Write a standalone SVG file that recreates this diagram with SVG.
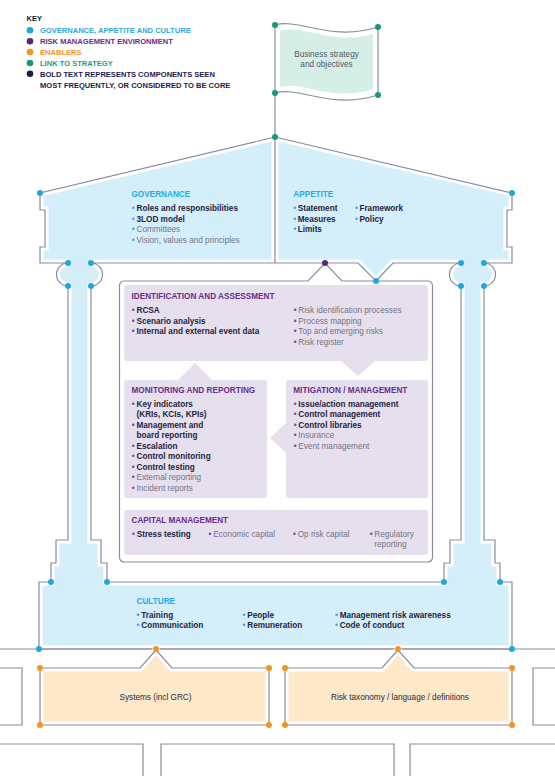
<svg xmlns="http://www.w3.org/2000/svg" width="555" height="776" viewBox="0 0 555 776">
<style>
.ol{fill:none;stroke:#8b8b9c;stroke-width:1.2}
.wb{stroke:#fff;stroke-width:7}
.blue{fill:#d4eefa}
.lav{fill:#e6dfed}
.ora{fill:#fde8c9}
.mint{fill:#d5efe6}
text{font-family:"Liberation Sans",Arial,sans-serif;font-size:8.2px}
.k{font-size:7.55px;font-weight:700}
.ttl{font-weight:700}
.tc{fill:#22ace3}
.tp{fill:#6a2d8e}
.bd{font-weight:700;fill:#25243e}
.rg{fill:#747487}
.bc{fill:#22ace3}
.bp{fill:#7a3a9e}
.ctr{text-anchor:middle}
.dc{fill:#1fa8e0}
.dp{fill:#4e2a78}
.do{fill:#f7941d}
.dt{fill:#16987c}
.dn{fill:#1d1b4c}
</style>

<g id="key">
<text x="26.5" y="21" class="k" fill="#1a1a1a">KEY</text>
<circle cx="30" cy="30.3" r="3.3" class="dc"/>
<text x="40" y="33.3" class="k" fill="#2aabe2">GOVERNANCE, APPETITE AND CULTURE</text>
<circle cx="30" cy="41.3" r="3.3" class="dp"/>
<text x="40" y="44.3" class="k" fill="#6a2d8e">RISK MANAGEMENT ENVIRONMENT</text>
<circle cx="30" cy="52" r="3.3" class="do"/>
<text x="40" y="55" class="k" fill="#f7941d">ENABLERS</text>
<circle cx="30" cy="63" r="3.3" class="dt"/>
<text x="40" y="66" class="k" fill="#16a085">LINK TO STRATEGY</text>
<circle cx="30" cy="73.7" r="3.3" class="dn"/>
<text x="40" y="77" class="k" fill="#1d1b4c">BOLD TEXT REPRESENTS COMPONENTS SEEN</text>
<text x="40" y="87.5" class="k" fill="#1d1b4c">MOST FREQUENTLY, OR CONSIDERED TO BE CORE</text>
</g>

<g id="structure">
<path class="blue wb" fill-rule="evenodd" d="M275,137 L512,193 V210 H507 V247 H512 V263 H484 A11.5,11.5 0 0 1 484,286 V540 H495 V563 H500 V582 H512 V649 H39 V582 H51 V563 H56 V540 H68 V286 A11.5,11.5 0 0 1 68,263 H40 V247 H45 V210 H40 V193 Z M91,263 H358 L376,281 L393,263 H461 A11.5,11.5 0 0 0 461,286 V540 H450 V563 H444 V582 H107 V563 H101 V540 H91 V286 A11.5,11.5 0 0 0 91,263 Z"/>
<line x1="275" y1="140" x2="275" y2="263" class="wb"/>
<path class="ol" d="M275,137 L512,193 V210 H507 V247 H512 V263 H484 A11.5,11.5 0 0 1 484,286 V540 H495 V563 H500 V582 H512 V649 H39 V582 H51 V563 H56 V540 H68 V286 A11.5,11.5 0 0 1 68,263 H40 V247 H45 V210 H40 V193 Z M91,263 H358 L376,281 L393,263 H461 A11.5,11.5 0 0 0 461,286 V540 H450 V563 H444 V582 H107 V563 H101 V540 H91 V286 A11.5,11.5 0 0 0 91,263 Z"/>
<line x1="0" y1="649" x2="555" y2="649" class="ol"/>
</g>

<g id="flag">
<path class="mint" d="M280,31 C303,24 332,46 373,34 V89 C332,103 303,80 280,87 Z"/>
<path class="ol" d="M275,25 C300,18 330,42 378,27 V95 M275,93 C300,86 330,110 378,95"/>
<line x1="275" y1="25" x2="275" y2="263" class="ol"/>
<text x="326.5" y="56.5" class="ctr" fill="#55556a">Business strategy</text>
<text x="326.5" y="66.8" class="ctr" fill="#55556a">and objectives</text>
</g>

<g id="governance">
<text x="131.5" y="196.7" class="ttl tc">GOVERNANCE</text>
<text y="211"><tspan x="131.7" class="bc">•</tspan><tspan x="136.5" class="bd">Roles and responsibilities</tspan></text>
<text y="221.5"><tspan x="131.7" class="bc">•</tspan><tspan x="136.5" class="bd">3LOD model</tspan></text>
<text y="232"><tspan x="131.7" class="bc">•</tspan><tspan x="136.5" class="rg">Committees</tspan></text>
<text y="242.5"><tspan x="131.7" class="bc">•</tspan><tspan x="136.5" class="rg">Vision, values and principles</tspan></text>
</g>

<g id="appetite">
<text x="293.3" y="196.7" class="ttl tc">APPETITE</text>
<text y="211"><tspan x="293.3" class="bc">•</tspan><tspan x="297.8" class="bd">Statement</tspan></text>
<text y="221.5"><tspan x="293.3" class="bc">•</tspan><tspan x="297.8" class="bd">Measures</tspan></text>
<text y="232"><tspan x="293.3" class="bc">•</tspan><tspan x="297.8" class="bd">Limits</tspan></text>
<text y="211"><tspan x="355" class="bc">•</tspan><tspan x="359.4" class="bd">Framework</tspan></text>
<text y="221.5"><tspan x="355" class="bc">•</tspan><tspan x="359.4" class="bd">Policy</tspan></text>
</g>

<g id="risk-management-environment">
<path class="ol" d="M124.5,281 H308 L325,263 L342,281 H427.5 Q432.5,281 432.5,286 V557 Q432.5,562 427.5,562 H124.5 Q119.5,562 119.5,557 V286 Q119.5,281 124.5,281 Z"/>
</g>

<g id="connectors">
<polygon class="lav" points="340,360 358,376 376,360"/>
<polygon class="lav" points="287,422 270,438 287,454"/>
<polygon class="lav" points="177,381 195,363 213,381"/>
</g>

<g id="identification">
<rect x="124" y="285" width="304" height="76" rx="3" class="lav"/>
<text x="131.5" y="298.5" class="ttl tp">IDENTIFICATION AND ASSESSMENT</text>
<text y="313"><tspan x="131.7" class="bp">•</tspan><tspan x="136.5" class="bd">RCSA</tspan></text>
<text y="323.5"><tspan x="131.7" class="bp">•</tspan><tspan x="136.5" class="bd">Scenario analysis</tspan></text>
<text y="334"><tspan x="131.7" class="bp">•</tspan><tspan x="136.5" class="bd">Internal and external event data</tspan></text>
<text y="313"><tspan x="293.8" class="bp">•</tspan><tspan x="298.3" class="rg">Risk identification processes</tspan></text>
<text y="323.5"><tspan x="293.8" class="bp">•</tspan><tspan x="298.3" class="rg">Process mapping</tspan></text>
<text y="334"><tspan x="293.8" class="bp">•</tspan><tspan x="298.3" class="rg">Top and emerging risks</tspan></text>
<text y="344.5"><tspan x="293.8" class="bp">•</tspan><tspan x="298.3" class="rg">Risk register</tspan></text>
</g>

<g id="monitoring">
<rect x="124" y="380" width="143" height="118" rx="3" class="lav"/>
<text x="131.5" y="393.3" class="ttl tp">MONITORING AND REPORTING</text>
<text y="406.5"><tspan x="131.7" class="bp">•</tspan><tspan x="136.5" class="bd">Key indicators</tspan></text>
<text y="417" x="136.5" class="bd">(KRIs, KCIs, KPIs)</text>
<text y="427.5"><tspan x="131.7" class="bp">•</tspan><tspan x="136.5" class="bd">Management and</tspan></text>
<text y="438" x="136.5" class="bd">board reporting</text>
<text y="448.5"><tspan x="131.7" class="bp">•</tspan><tspan x="136.5" class="bd">Escalation</tspan></text>
<text y="459"><tspan x="131.7" class="bp">•</tspan><tspan x="136.5" class="bd">Control monitoring</tspan></text>
<text y="469.5"><tspan x="131.7" class="bp">•</tspan><tspan x="136.5" class="bd">Control testing</tspan></text>
<text y="480"><tspan x="131.7" class="bp">•</tspan><tspan x="136.5" class="rg">External reporting</tspan></text>
<text y="490.5"><tspan x="131.7" class="bp">•</tspan><tspan x="136.5" class="rg">Incident reports</tspan></text>
</g>

<g id="mitigation">
<rect x="286" y="380" width="142" height="118" rx="3" class="lav"/>
<text x="293.3" y="393.3" class="ttl tp">MITIGATION / MANAGEMENT</text>
<text y="406.5"><tspan x="293.8" class="bp">•</tspan><tspan x="298.3" class="bd">Issue/action management</tspan></text>
<text y="417"><tspan x="293.8" class="bp">•</tspan><tspan x="298.3" class="bd">Control management</tspan></text>
<text y="427.5"><tspan x="293.8" class="bp">•</tspan><tspan x="298.3" class="bd">Control libraries</tspan></text>
<text y="438"><tspan x="293.8" class="bp">•</tspan><tspan x="298.3" class="rg">Insurance</tspan></text>
<text y="448.5"><tspan x="293.8" class="bp">•</tspan><tspan x="298.3" class="rg">Event management</tspan></text>
</g>

<g id="capital">
<rect x="124" y="510" width="304" height="45" rx="3" class="lav"/>
<text x="131.5" y="523.3" class="ttl tp">CAPITAL MANAGEMENT</text>
<text y="536.7"><tspan x="132" class="bp">•</tspan><tspan x="136.7" class="bd">Stress testing</tspan></text>
<text y="536.7"><tspan x="208.5" class="bp">•</tspan><tspan x="213.3" class="rg">Economic capital</tspan></text>
<text y="536.7"><tspan x="293" class="bp">•</tspan><tspan x="297.7" class="rg">Op risk capital</tspan></text>
<text y="536.7"><tspan x="369.8" class="bp">•</tspan><tspan x="374.3" class="rg">Regulatory</tspan></text>
<text y="547.3" x="374.3" class="rg">reporting</text>
</g>

<g id="culture">
<text x="136.5" y="604" class="ttl tc">CULTURE</text>
<text y="617.5"><tspan x="136.6" class="bc">•</tspan><tspan x="141.3" class="bd">Training</tspan></text>
<text y="628.3"><tspan x="136.6" class="bc">•</tspan><tspan x="141.3" class="bd">Communication</tspan></text>
<text y="617.5"><tspan x="242.6" class="bc">•</tspan><tspan x="247.3" class="bd">People</tspan></text>
<text y="628.3"><tspan x="242.6" class="bc">•</tspan><tspan x="247.3" class="bd">Remuneration</tspan></text>
<text y="617.5"><tspan x="335" class="bc">•</tspan><tspan x="339.7" class="bd">Management risk awareness</tspan></text>
<text y="628.3"><tspan x="335" class="bc">•</tspan><tspan x="339.7" class="bd">Code of conduct</tspan></text>
</g>

<g id="systems">
<path class="ora wb" d="M40,668 H140 L156,650 L172,668 H269 V725 H40 Z"/>
<path class="ol" d="M40,668 H140 L156,650 L172,668 H269 V725 H40 Z"/>
<text x="155.5" y="699.5" class="ctr" fill="#2a2a40">Systems (incl GRC)</text>
</g>

<g id="taxonomy">
<path class="ora wb" d="M285,668 H382 L398,650 L414,668 H512 V725 H285 Z"/>
<path class="ol" d="M285,668 H382 L398,650 L414,668 H512 V725 H285 Z"/>
<text x="400" y="699.5" class="ctr" fill="#2a2a40">Risk taxonomy / language / definitions</text>
</g>

<g id="foundations">
<path class="ol" d="M0,668 H22 V725 H0 M555,668 H533 V725 H555 M0,744 H143 V776 M161,776 V744 H394 V776 M555,744 H410 V776"/>
</g>

<g id="dots">
<circle cx="275" cy="25" r="3" class="dt"/>
<circle cx="378" cy="27" r="3" class="dt"/>
<circle cx="275" cy="93" r="3" class="dt"/>
<circle cx="378" cy="95" r="3" class="dt"/>
<circle cx="275" cy="137" r="3" class="dt"/>
<circle cx="40" cy="193" r="3" class="dc"/>
<circle cx="512" cy="193" r="3" class="dc"/>
<circle cx="68" cy="263" r="3" class="dc"/>
<circle cx="91" cy="263" r="3" class="dc"/>
<circle cx="68" cy="286" r="3" class="dc"/>
<circle cx="91" cy="286" r="3" class="dc"/>
<circle cx="461" cy="263" r="3" class="dc"/>
<circle cx="484" cy="263" r="3" class="dc"/>
<circle cx="461" cy="286" r="3" class="dc"/>
<circle cx="484" cy="286" r="3" class="dc"/>
<circle cx="51" cy="582" r="3" class="dc"/>
<circle cx="107" cy="582" r="3" class="dc"/>
<circle cx="444" cy="582" r="3" class="dc"/>
<circle cx="500" cy="582" r="3" class="dc"/>
<circle cx="39" cy="649" r="3" class="dc"/>
<circle cx="512" cy="649" r="3" class="dc"/>
<circle cx="376" cy="281" r="3" class="dc"/>
<circle cx="325" cy="263" r="3" class="dp"/>
<circle cx="156" cy="649" r="3" class="do"/>
<circle cx="398" cy="649" r="3" class="do"/>
<circle cx="40" cy="668" r="3" class="do"/>
<circle cx="269" cy="668" r="3" class="do"/>
<circle cx="40" cy="725" r="3" class="do"/>
<circle cx="269" cy="725" r="3" class="do"/>
<circle cx="285" cy="668" r="3" class="do"/>
<circle cx="512" cy="668" r="3" class="do"/>
<circle cx="285" cy="725" r="3" class="do"/>
<circle cx="512" cy="725" r="3" class="do"/>
</g>
</svg>
